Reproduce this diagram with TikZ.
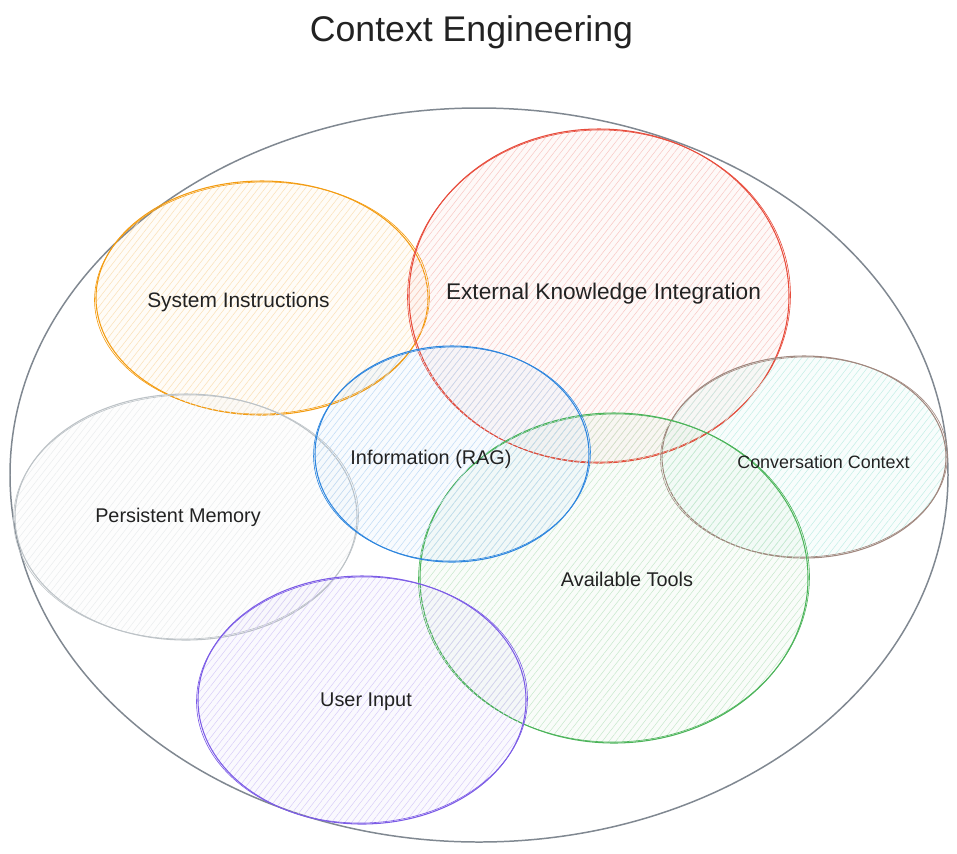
\documentclass[tikz,border=0pt]{standalone}
\usepackage{fontspec}
\setmainfont{Liberation Sans}
\usepackage{xcolor}
\usetikzlibrary{patterns.meta}
\definecolor{ceorange}{RGB}{243, 156, 18}
\definecolor{cered}{RGB}{231, 76, 60}
\definecolor{ceblue}{RGB}{46, 134, 222}
\definecolor{cegray}{RGB}{189, 195, 199}
\definecolor{cebrown}{RGB}{161, 136, 127}
\definecolor{cemint}{RGB}{60, 200, 170}
\definecolor{cegreen}{RGB}{76, 180, 90}
\definecolor{cepurple}{RGB}{124, 92, 230}
\definecolor{ceouter}{RGB}{128, 136, 145}
\definecolor{cetext}{RGB}{34, 34, 34}
% one sketchy set: #1 x, #2 y, #3 x radius, #4 y radius, #5 stroke, #6 fill
\newcommand{\venncircle}[6]{%
    \fill[#6, fill opacity=0.035] (#1,#2) ellipse [x radius=#3, y radius=#4];
    \fill[pattern={Lines[angle=52, distance=3pt, line width=0.3pt]}, pattern color=#6!30, fill opacity=0.22]
        (#1,#2) ellipse [x radius=#3, y radius=#4];
    \draw[setline, #5] (#1,#2) ellipse [x radius=#3, y radius=#4];
    \draw[setline, #5, line width=0.35pt, rotate around={1.2:(#1,#2)}]
        (#1,#2) ellipse [x radius={#3+1.5}, y radius={#4-1}];
}

\begin{document}
\begin{tikzpicture}[
        x=0.02cm, y=-0.02cm,
        setline/.style={line width=0.6pt},
        setlabel/.style={font=\fontsize{11.3}{13}\selectfont, text=cetext, inner sep=1pt},
        title/.style={font=\fontsize{20.3}{24}\selectfont, text=cetext}
    ]
        \useasboundingbox (0,0) rectangle (957,853);
        % Title
        \node[title] (title) at (471.5, 32) {Context Engineering};
        % Outer set
        \draw[ceouter, line width=0.85pt] (479, 475) ellipse [x radius=469, y radius=367];
        % Sets
        \venncircle{262}{298}{166}{117}{ceorange}{ceorange}
        \venncircle{599}{296}{190}{167}{cered}{cered}
        \venncircle{186}{517}{171}{123}{cegray}{cegray}
        \venncircle{804}{457}{142}{101}{cebrown}{cemint}
        \venncircle{614}{578}{194}{165}{cegreen}{cegreen}
        \venncircle{452}{454}{137}{108}{ceblue}{ceblue}
        \venncircle{362}{700}{164}{124}{cepurple}{cepurple}
        % Labels
        \node[setlabel, font=\fontsize{11.9}{14}\selectfont] (sys) at (238.5, 302) {System Instructions};
        \node[setlabel, font=\fontsize{12.9}{15}\selectfont] (ext) at (603.5, 294) {External Knowledge Integration};
        \node[setlabel] (rag) at (431, 459) {Information (RAG)};
        \node[setlabel] (mem) at (178, 517) {Persistent Memory};
        \node[setlabel, font=\fontsize{10.2}{12}\selectfont] (conv) at (823.5, 462) {Conversation Context};
        \node[setlabel] (tools) at (627, 579) {Available Tools};
        \node[setlabel] (user) at (366, 702) {User Input};
    \end{tikzpicture}
\end{document}
